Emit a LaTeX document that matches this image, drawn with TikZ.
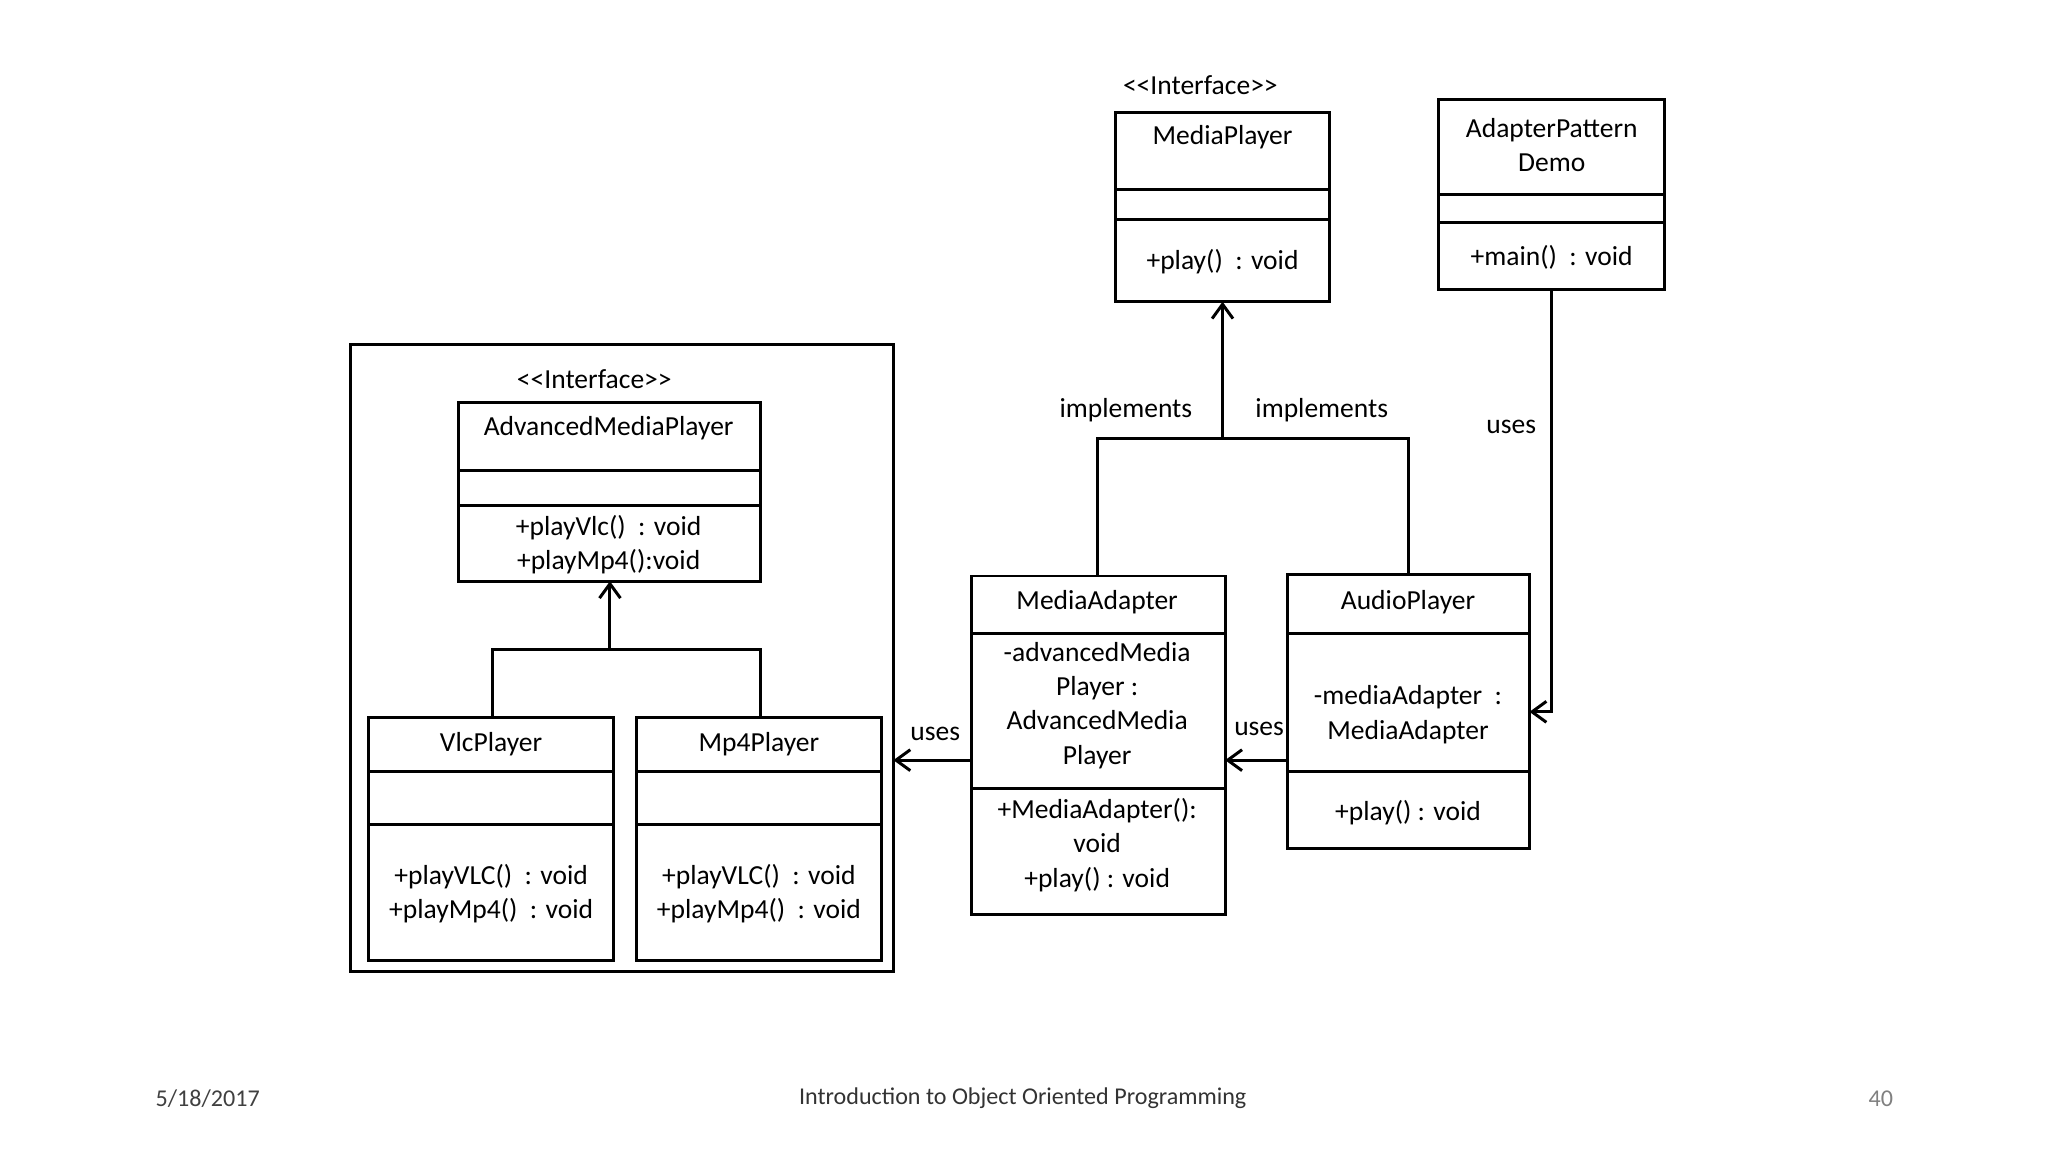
\documentclass[tikz,border=0pt]{standalone}
\usepackage{fontspec}
\setmainfont{Carlito}
\usetikzlibrary{arrows.meta}
\begin{document}
\begin{tikzpicture}[x=0.02cm,y=-0.02cm,
  box/.style={draw,line width=1.3pt},
  t/.style={font=\fontsize{12}{15}\selectfont,align=center,inner sep=0pt},
  ft/.style={font=\fontsize{10.5}{13}\selectfont,inner sep=0pt},
  con/.style={line width=1.3pt},
  arr/.style={con,-{Straight Barb[length=2.2mm,width=3.2mm,line width=1.3pt]}}]
\useasboundingbox (0,0) rectangle (1568,882);
% MediaPlayer
\draw[box] (854,86) rectangle (1018,231);
\draw[box] (854,145)--(1018,145) (854,168)--(1018,168);
\coordinate (mpb) at (936,231);
\node[t] (mpst) at (919,65) {{<}{<}Interface{>}{>}};
\node[t] (mpn) at (936,105) {MediaPlayer};
\node[t] (mpm) at (936,200) {+play() \ : void};
% AdapterPatternDemo
\draw[box] (1101,76) rectangle (1274,222);
\draw[box] (1101,149)--(1274,149) (1101,170)--(1274,170);
\coordinate (apb) at (1188,222);
\node[t] (apn) at (1188,111) {AdapterPattern\\Demo};
\node[t] (apm) at (1188,197) {+main() \ : void};
% Frame
\draw[box] (268,264) rectangle (684,744);
\coordinate (frr) at (684,582);
% AdvancedMediaPlayer
\draw[box] (351,308) rectangle (582,445);
\draw[box] (351,360)--(582,360) (351,387)--(582,387);
\coordinate (amb) at (467,445);
\node[t] (amst) at (455,290) {{<}{<}Interface{>}{>}};
\node[t] (amn) at (466,328) {AdvancedMediaPlayer};
\node[t] (amm) at (466,417) {+playVlc() \ : void\\+playMp4():void};
% VlcPlayer
\draw[box] (282,549) rectangle (470,735);
\draw[box] (282,591)--(470,591) (282,631)--(470,631);
\coordinate (vlt) at (377,549);
\node[t] (vln) at (376,570) {VlcPlayer};
\node[t] (vlm) at (376,684) {+playVLC() \ : void\\+playMp4() \ : void};
% Mp4Player
\draw[box] (487,549) rectangle (675,735);
\draw[box] (487,591)--(675,591) (487,631)--(675,631);
\coordinate (m4t) at (582,549);
\node[t] (m4n) at (581,570) {Mp4Player};
\node[t] (m4m) at (581,684) {+playVLC() \ : void\\+playMp4() \ : void};
% MediaAdapter
\draw[box] (744,441) rectangle (938,700);
\draw[box] (744,485)--(938,485) (744,604)--(938,604);
\coordinate (mat) at (840,441);
\coordinate (mal) at (744,582);
\coordinate (mar) at (938,582);
\node[t] (man) at (840,461) {MediaAdapter};
\node[t] (maa) at (840,540) {-advancedMedia\\Player :\\AdvancedMedia\\Player};
\node[t] (mam) at (840,647) {+MediaAdapter():\\void\\+play() : void};
% AudioPlayer
\draw[box] (986,440) rectangle (1171,650);
\draw[box] (986,485)--(1171,485) (986,591)--(1171,591);
\coordinate (aut) at (1078,440);
\coordinate (aul) at (986,582);
\coordinate (aur) at (1171,545);
\node[t] (aun) at (1078,461) {AudioPlayer};
\node[t] (aua) at (1078,547) {-mediaAdapter \ :\\MediaAdapter};
\node[t] (aum) at (1078,622) {+play() : void};
% connectors
\draw[con] (mat) |- (936,336) -| (aut);
\draw[arr] (936,336) -- (mpb);
\draw[arr] (apb) |- (aur);
\draw[arr] (aul) -- (mar);
\draw[arr] (mal) -- (frr);
\draw[con] (vlt) |- (467,497) -| (m4t);
\draw[arr] (467,497) -- (amb);
\node[t] (l1) at (862,314) {implements};
\node[t] (l2) at (1012,314) {implements};
\node[t] (l3) at (1157,327) {uses};
\node[t] (l4) at (964,558) {uses};
\node[t] (l5) at (716,562) {uses};
% footer
\node[ft,text=black!75] (f1) at (159,841) {5/18/2017};
\node[ft,text=black!80] (f2) at (783,841) {Introduction to Object Oriented Programming};
\node[ft,text=black!50] (f3) at (1440,841) {40};
\end{tikzpicture}
\end{document}
